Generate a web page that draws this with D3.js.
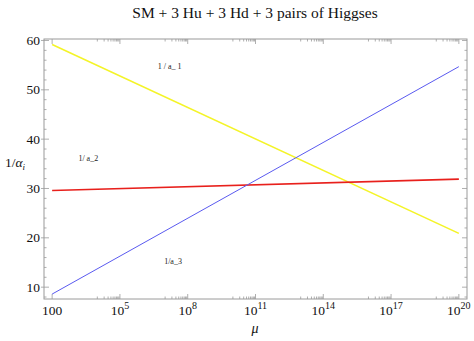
<!DOCTYPE html>
<html><head><meta charset="utf-8">
<script src="https://cdn.jsdelivr.net/npm/d3@7"></script>
<style>body{margin:0;background:#fff}svg{display:block}text{font-family:"Liberation Serif","DejaVu Serif",serif}</style>
</head><body>
<script>
const title = "SM + 3 Hu + 3 Hd + 3 pairs of Higgses";
const muPoints = [1e2, 1e20];
const invAlpha1 = [59.2, 20.9];
const invAlpha2 = [29.6, 31.9];
const invAlpha3 = [8.6, 54.7];
const seriesNames = ["1 / a_ 1", "1/ a_2", "1/a_3"];
const seriesColors = ["#f4f428", "#e8201c", "#5a5af0"];
const xTickExps = [2, 5, 8, 11, 14, 17, 20];
const yTicks = [10, 20, 30, 40, 50, 60];
const labelPos = [[Math.pow(10, 7.2), 54.2], [Math.pow(10, 3.6), 35.6], [Math.pow(10, 7.35), 14.6]];

const W = 474, H = 341;
const svg = d3.select("body").append("svg").attr("width", W).attr("height", H);
const x = d3.scaleLog().domain([Math.pow(10, 1.64), Math.pow(10, 20.36)]).range([44, 467]);
const y = d3.scaleLinear().domain([7.6, 60.3]).range([299, 39]);
const frame = "#9a9a9a";

svg.append("text").attr("x", 255).attr("y", 18).attr("text-anchor", "middle")
  .attr("font-size", 15.5).attr("fill", "#111").text(title);

svg.append("rect").attr("x", 44).attr("y", 39).attr("width", 423).attr("height", 260)
  .attr("fill", "none").attr("stroke", frame).attr("stroke-width", 1);

const minor = [];
xTickExps.forEach(e => { if (e > 2) { for (let m = 1; m <= 9; m++) minor.push(m * Math.pow(10, e - 1)); } });
const tg = svg.append("g").attr("stroke", frame).attr("stroke-width", 0.8);
xTickExps.forEach(e => {
  const px = x(Math.pow(10, e));
  tg.append("line").attr("x1", px).attr("x2", px).attr("y1", 299).attr("y2", 294);
  tg.append("line").attr("x1", px).attr("x2", px).attr("y1", 39).attr("y2", 44);
});
minor.forEach(v => {
  const px = x(v);
  tg.append("line").attr("x1", px).attr("x2", px).attr("y1", 299).attr("y2", 296.5);
  tg.append("line").attr("x1", px).attr("x2", px).attr("y1", 39).attr("y2", 41.5);
});
yTicks.forEach(v => {
  const py = y(v);
  tg.append("line").attr("x1", 41).attr("x2", 49).attr("y1", py).attr("y2", py);
  tg.append("line").attr("x1", 467).attr("x2", 462).attr("y1", py).attr("y2", py);
});
d3.range(8, 61, 2).filter(v => v % 10 !== 0).forEach(v => {
  const py = y(v);
  tg.append("line").attr("x1", 44).attr("x2", 46.5).attr("y1", py).attr("y2", py);
  tg.append("line").attr("x1", 467).attr("x2", 464.5).attr("y1", py).attr("y2", py);
});

xTickExps.forEach(e => {
  const t = svg.append("text").attr("x", x(Math.pow(10, e))).attr("y", 315)
    .attr("text-anchor", "middle").attr("font-size", 13.5).attr("fill", "#111");
  if (e === 2) t.text("100");
  else {
    t.append("tspan").text("10");
    t.append("tspan").attr("dy", -6).attr("font-size", 10).text(e);
  }
});
yTicks.forEach(v => {
  svg.append("text").attr("x", 40).attr("y", y(v) + 4.5).attr("text-anchor", "end")
    .attr("font-size", 13.5).attr("fill", "#111").text(v);
});

svg.append("text").attr("x", 255).attr("y", 333).attr("text-anchor", "middle")
  .attr("font-size", 14).attr("font-style", "italic").attr("fill", "#111").text("μ");
const yl = svg.append("text").attr("x", 5).attr("y", 167).attr("font-size", 13.5).attr("fill", "#111");
yl.append("tspan").text("1/");
yl.append("tspan").attr("font-style", "italic").text("α");
yl.append("tspan").attr("font-style", "italic").attr("font-size", 9).attr("dy", 3).text("i");

const line = d3.line().x(d => x(d[0])).y(d => y(d[1]));
const series = [invAlpha1, invAlpha2, invAlpha3];
const widths = [1.6, 1.6, 1];
series.forEach((s, i) => {
  svg.append("path").datum(muPoints.map((m, j) => [m, s[j]]))
    .attr("d", line).attr("fill", "none").attr("stroke", seriesColors[i])
    .attr("stroke-width", widths[i]);
});

seriesNames.forEach((n, i) => {
  svg.append("text").attr("x", x(labelPos[i][0])).attr("y", y(labelPos[i][1]))
    .attr("text-anchor", "middle").attr("font-size", 8).attr("fill", "#222").text(n);
});
</script>
</body></html>
